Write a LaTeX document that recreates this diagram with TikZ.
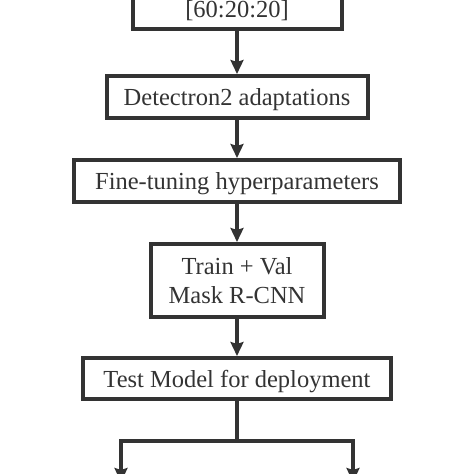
\documentclass[tikz,border=0pt]{standalone}
\usepackage{fontspec}
\setmainfont{Liberation Serif}
\usetikzlibrary{arrows.meta}
\usetikzlibrary{positioning}
\definecolor{flowgray}{HTML}{333333}
\tikzset{> = {Stealth[length = 14pt, width = 13pt, inset = 2pt]}, node distance = 38pt,
  stepbox/.style = {draw, align = center, inner xsep = 0pt, font = \fontsize{24.5}{29}\selectfont},
  oneline/.style = {text height = 20pt, text depth = 2pt}}

\begin{document}
\begin{tikzpicture}[x = 1pt, y = 1pt, color = flowgray, line width = 4pt]
  \useasboundingbox (0,0) rectangle (474,474);
  % nodes
  \node [stepbox, oneline, minimum width = 261pt, minimum height = 42pt] (adapt) at (237,377) {Detectron2 adaptations};
  \node [stepbox, minimum width = 209pt, text height = 60pt, text depth = 6pt, inner ysep = 5pt, above = 43pt of adapt] (split) {[60:20:20]};
  \node [stepbox, oneline, minimum width = 326pt, minimum height = 42pt, below = of adapt] (tune) {Fine-tuning hyperparameters};
  \node [stepbox, minimum width = 173pt, minimum height = 73pt, below = of tune] (train) {Train + Val\\Mask R-CNN};
  \node [stepbox, oneline, minimum width = 308pt, minimum height = 41pt, below = 37pt of train] (test) {Test Model for deployment};
  \coordinate [below = 40pt of test] (fork);
  \coordinate (outleft) at (121,-8);
  \coordinate (outright) at (353,-8);
  % paths
  \draw [->] (split) -- (adapt);
  \draw [->] (adapt) -- (tune);
  \draw [->] (tune) -- (train);
  \draw [->] (train) -- (test);
  \draw (test) -- (fork);
  \draw [->] (fork) -| (outleft);
  \draw [->] (fork) -| (outright);
\end{tikzpicture}
\end{document}
